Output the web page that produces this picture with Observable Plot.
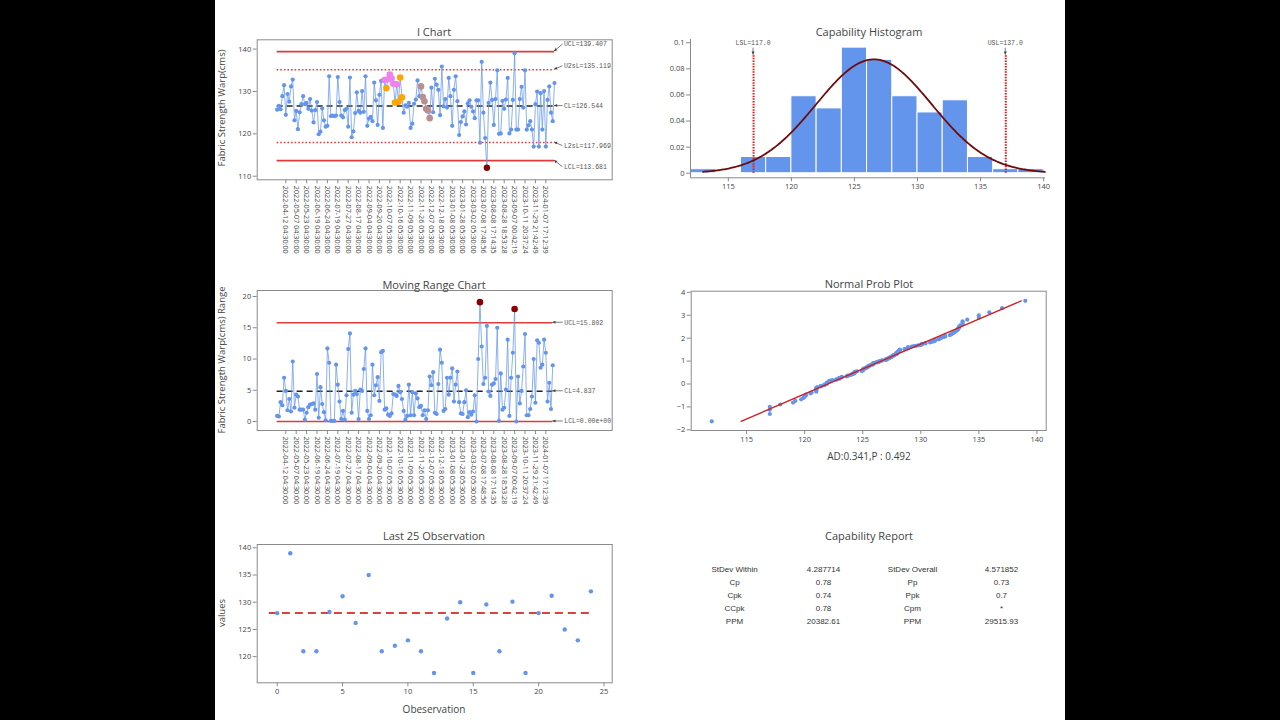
<!DOCTYPE html>
<html><head><meta charset="utf-8">
<script src="https://cdn.jsdelivr.net/npm/d3@7"></script>
<script src="https://cdn.jsdelivr.net/npm/@observablehq/plot@0.6"></script>
<style>
html,body{margin:0;padding:0;background:#000;width:1280px;height:720px;overflow:hidden;}
#panel{position:absolute;left:215px;top:0;width:850px;height:720px;background:#fff;}
.chart{position:absolute;}
.t{position:absolute;transform:translate(-50%,-50%);white-space:nowrap;font-family:"Open Sans",sans-serif;color:#444;}
.title{font-size:11px;}
.sub{font-size:10px;}
.yt{font-size:9.5px;transform:translate(-50%,-50%) rotate(-90deg);}
#report{position:absolute;left:690px;top:563px;width:356px;border-collapse:collapse;font-family:"Liberation Sans",Arial,sans-serif;font-size:8px;color:#333;}
#report td{width:25%;text-align:center;height:13px;padding:0;line-height:13px;}
</style></head>
<body>
<div id="panel"></div>
<div id="root"></div>
<script>
// ---------------- DATA ----------------
const iValues = [125.7,126.6,125.8,128.9,131.5,124.5,129.4,127.6,131.2,132.8,
123.2,125.4,121.1,125.1,127.0,128.9,127.0,127.3,125.9,128.2,
125.5,122.7,125.6,127.5,119.9,120.5,126.0,123.2,121.7,121.9,
133.6,124.2,124.3,124.2,124.3,133.4,127.5,124.3,123.9,125.6,
125.9,121.7,133.3,119.2,120.6,124.9,129.8,125.4,125.0,130.1,
125.2,133.6,121.9,123.6,124.0,123.0,132.1,127.9,122.1,129.2,
132.5,121.4,132.7,130.8,132.9,134.0,133.1,131.8,127.4,131.7,
127.6,133.3,128.6,125.0,126.7,126.4,127.3,121.4,122.4,127.1,
128.1,132.6,128.9,131.2,128.7,127.7,125.9,125.5,123.7,130.9,
125.1,133.0,131.6,130.4,124.4,135.9,126.5,128.2,126.2,133.2,
128.9,121.9,130.4,133.6,127.7,119.7,122.8,124.1,125.3,122.2,
127.2,127.9,126.4,125.3,123.7,127.9,127.9,117.9,137.0,125.0,
119.0,112.0,127.3,132.1,128.0,122.1,128.2,135.0,120.0,120.1,
127.8,125.9,128.1,133.2,120.1,121.0,128.0,139.0,121.0,121.0,
128.2,131.1,126.2,135.0,121.0,122.0,123.0,121.0,117.0,127.0,
130.0,117.0,129.6,121.0,130.1,117.0,128.0,131.2,125.0,123.0,
132.0];

const tickLabels = ["2022-04-12 04:30:00","2022-05-07 04:30:00","2022-05-23 04:30:00","2022-06-19 04:30:00",
"2022-06-24 04:30:00","2022-07-19 04:30:00","2022-07-27 04:30:00","2022-08-17 04:30:00","2022-09-04 04:30:00",
"2022-09-20 04:30:00","2022-10-07 05:30:00","2022-10-16 05:30:00","2022-11-09 05:30:00","2022-11-26 05:30:00",
"2022-12-07 05:30:00","2022-12-18 05:30:00","2023-01-08 05:30:00","2023-01-28 05:30:00","2023-03-02 05:30:00",
"2023-07-08 17:48:56","2023-08-08 17:14:35","2023-08-28 18:53:28","2023-09-07 00:42:19","2023-10-11 20:37:24",
"2023-11-29 21:42:49","2024-01-07 17:12:39"];
const tickStart = 5, tickStep = 6;

const iLimitLabels = ["UCL=139.407","U2sL=135.119","CL=126.544","L2sL=117.969","LCL=113.681"];
const iLimitValues = [139.407, 135.119, 126.544, 117.969, 113.681];
const mrLimitLabels = ["UCL=15.802","CL=4.837","LCL=0.00e+00"];
const mrLimitValues = [15.802, 4.837, 0];

// flagged points in the I chart (indices)
const beyondLimitIdx = [121];
const fourOfFiveIdx = [62,64,65,66,67,69];
const runIdx = [63,68,70,71,72];
const trendIdx = [83,84,85,86,87,88];

const specLabels = ["LSL=117.0","USL=137.0"];
const specValues = [117, 137];
const specLineTop = 0.0905;
const overallMean = 126.544;
const sdOverall = 4.571852;
const binWidth = 2;
const binRange = [112, 140];

const probShift = 1;
const adText = "AD:0.341,P : 0.492";

const last25Target = 128;
const last25Span = [-0.6, 24.1];

const reportRows = [
  ["StDev Within","4.287714","StDev Overall","4.571852"],
  ["Cp","0.78","Pp","0.73"],
  ["Cpk","0.74","Ppk","0.7"],
  ["CCpk","0.78","Cpm","*"],
  ["PPM","20382.61","PPM","29515.93"]
];

// ---------------- HELPERS ----------------
const BLUE = "#6495ED", RED = "#e03a3a", FRAME = "#8a8a8a";
const baseStyle = {fontFamily:'"Open Sans", sans-serif', fontSize:"7.5px", color:"#444", background:"transparent", overflow:"visible"};
const root = document.getElementById("root");
function place(node, left, top){ const d=document.createElement("div"); d.className="chart"; d.style.left=left+"px"; d.style.top=top+"px"; d.appendChild(node); root.appendChild(d); }
function label(text, x, y, cls){ const d=document.createElement("div"); d.className="t "+cls; d.style.left=x+"px"; d.style.top=y+"px"; d.textContent=text; root.appendChild(d); }
const ax = {tickSize:4, tickPadding:2, stroke:FRAME, label:null};

function annot(items){
  return (...args) => {
    const s = (args[0] && typeof args[0].x === "function") ? args[0] : args[1];
    const g = d3.create("svg:g");
    for (const a of items){
      const px = s.x(a.x), py = s.y(a.y);
      const tx = px + a.dx, ty = py + a.dy;
      const x0 = a.vertical ? tx : tx - 1.5;
      const y0 = a.vertical ? ty + 2.5 : ty;
      g.append("line").attr("x1",x0).attr("y1",y0).attr("x2",px).attr("y2",py).attr("stroke","#444").attr("stroke-width",0.7);
      const ang = Math.atan2(py-y0, px-x0), L=3.2, W=1.5;
      const bx = px - L*Math.cos(ang), by = py - L*Math.sin(ang);
      g.append("path").attr("d",`M${px},${py}L${bx-W*Math.sin(ang)},${by+W*Math.cos(ang)}L${bx+W*Math.sin(ang)},${by-W*Math.cos(ang)}Z`).attr("fill","#444");
      g.append("text").attr("x",tx).attr("y",ty)
        .attr("text-anchor", a.vertical ? "middle" : "start")
        .attr("dy", a.vertical ? "0" : "0.35em")
        .attr("font-family","'Liberation Mono', 'DejaVu Sans Mono', monospace")
        .attr("font-size","6.5px").attr("fill","#555").text(a.text);
    }
    return g.node();
  };
}

function invNorm(p){
  const a=[-3.969683028665376e+01,2.209460984245205e+02,-2.759285104469687e+02,1.383577518672690e+02,-3.066479806614716e+01,2.506628277459239e+00];
  const b=[-5.447609879822406e+01,1.615858368580409e+02,-1.556989798598866e+02,6.680131188771972e+01,-1.328068155288572e+01];
  const c=[-7.784894002430293e-03,-3.223964580411365e-01,-2.400758277161838e+00,-2.549732539343734e+00,4.374664141464968e+00,2.938163982698783e+00];
  const d=[7.784695709041462e-03,3.224671290700398e-01,2.445134137142996e+00,3.754408661907416e+00];
  const pl=0.02425, ph=1-pl; let q,r;
  if(p<pl){q=Math.sqrt(-2*Math.log(p));return (((((c[0]*q+c[1])*q+c[2])*q+c[3])*q+c[4])*q+c[5])/((((d[0]*q+d[1])*q+d[2])*q+d[3])*q+1);}
  if(p<=ph){q=p-0.5;r=q*q;return (((((a[0]*r+a[1])*r+a[2])*r+a[3])*r+a[4])*r+a[5])*q/(((((b[0]*r+b[1])*r+b[2])*r+b[3])*r+b[4])*r+1);}
  q=Math.sqrt(-2*Math.log(1-p));return -(((((c[0]*q+c[1])*q+c[2])*q+c[3])*q+c[4])*q+c[5])/((((d[0]*q+d[1])*q+d[2])*q+d[3])*q+1);
}

// ---------------- DERIVED ----------------
const N = iValues.length;
const iData = iValues.map((v,i)=>({i,v}));
const mrData = d3.range(N-1).map(j=>({j, v:Math.abs(iValues[j+1]-iValues[j])}));
const tickPos = tickLabels.map((_,k)=>tickStart+k*tickStep);
const xTickFmt = d => tickLabels[Math.round((d-tickStart)/tickStep)];
const seqDomain = [-11.5, 193.3];

const limitStyle = [
  {stroke:RED, strokeWidth:1.6},
  {stroke:RED, strokeWidth:1.4, strokeDasharray:"1.6,2"},
  {stroke:"#222", strokeWidth:1.5, strokeDasharray:"6,4"},
  {stroke:RED, strokeWidth:1.4, strokeDasharray:"1.6,2"},
  {stroke:RED, strokeWidth:1.6}
];
const mrLimitStyle = [limitStyle[0], limitStyle[2], limitStyle[4]];

// ---------------- I CHART ----------------
const iDy = [-7, -3.5, 0, 3.7, 6.6];
const iPlot = Plot.plot({
  width:430, height:260, marginLeft:41.7, marginRight:33.3, marginTop:19.3, marginBottom:100.7,
  style: baseStyle,
  x:{domain:seqDomain, axis:null, label:null}, y:{domain:[109.15,142.2], axis:null, label:null},
  marks:[
    ...iLimitValues.map((v,k)=>Plot.ruleY([v],{x1:0, x2:N-1, ...limitStyle[k]})),
    Plot.line(iData,{x:"i", y:"v", stroke:BLUE, strokeOpacity:0.75, strokeWidth:1}),
    Plot.dot(iData,{x:"i", y:"v", r:2.1, fill:BLUE}),
    Plot.dot(iData.filter(d=>runIdx.includes(d.i)),{x:"i", y:"v", r:3.3, fill:"orange"}),
    Plot.dot(iData.filter(d=>fourOfFiveIdx.includes(d.i)),{x:"i", y:"v", r:3.3, fill:"violet"}),
    Plot.dot(iData.filter(d=>trendIdx.includes(d.i)),{x:"i", y:"v", r:3.3, fill:"rosybrown"}),
    Plot.dot(iData.filter(d=>beyondLimitIdx.includes(d.i)),{x:"i", y:"v", r:3.2, fill:"darkred"}),
    Plot.frame({stroke:FRAME}),
    Plot.axisY([110,120,130,140],ax),
    Plot.axisX(tickPos,{...ax, tickFormat:xTickFmt, tickRotate:90, fontSize:7.2}),
    annot(iLimitValues.map((v,k)=>({x:N-1, y:v, dx:10, dy:iDy[k], text:iLimitLabels[k]})))
  ]
});
place(iPlot, 215, 20);

// ---------------- MOVING RANGE ----------------
const mrUcl = mrLimitValues[0];
const mrPlot = Plot.plot({
  width:430, height:250, marginLeft:41.7, marginRight:33.3, marginTop:18, marginBottom:92,
  style: baseStyle,
  x:{domain:seqDomain, axis:null, label:null}, y:{domain:[-1.44,20.96], axis:null, label:null},
  marks:[
    ...mrLimitValues.map((v,k)=>Plot.ruleY([v],{x1:0, x2:N-2, ...mrLimitStyle[k]})),
    Plot.line(mrData,{x:"j", y:"v", stroke:BLUE, strokeOpacity:0.75, strokeWidth:1}),
    Plot.dot(mrData,{x:"j", y:"v", r:2.1, fill:BLUE}),
    Plot.dot(mrData.filter(d=>d.v>mrUcl),{x:"j", y:"v", r:3.3, fill:"darkred"}),
    Plot.frame({stroke:FRAME}),
    Plot.axisY([0,5,10,15,20],ax),
    Plot.axisX(tickPos,{...ax, tickFormat:xTickFmt, tickRotate:90, fontSize:7.2}),
    annot(mrLimitValues.map((v,k)=>({x:N-2, y:v, dx:12, dy:0, text:mrLimitLabels[k]})))
  ]
});
place(mrPlot, 215, 272);

// ---------------- HISTOGRAM ----------------
const bins = d3.bin().domain(binRange).thresholds(d3.range(binRange[0]+binWidth, binRange[1], binWidth))(iValues)
  .filter(b=>b.length>0).map(b=>({x0:b.x0, x1:b.x1, dens:b.length/(N*binWidth)}));
const pdf = x => Math.exp(-0.5*((x-overallMean)/sdOverall)**2)/(sdOverall*Math.sqrt(2*Math.PI));
const curve = d3.range(113, 140.16, 0.1).map(x=>({x, y:pdf(x)}));
const histDomainX = [112, 140.15], histDomainY = [-0.0035, 0.1025];
const histPlot = Plot.plot({
  width:400, height:180, marginLeft:30, marginRight:15, marginTop:19, marginBottom:22.7,
  style: baseStyle,
  x:{domain:histDomainX, axis:null, label:null}, y:{domain:histDomainY, axis:null, label:null},
  marks:[
    Plot.rectY(bins,{x1:"x0", x2:"x1", y1:0, y2:"dens", fill:BLUE, stroke:"white", strokeWidth:1}),
    Plot.ruleX(specValues,{y1:0, y2:specLineTop, stroke:"#d41c1c", strokeWidth:2, strokeDasharray:"1.5,1.2"}),
    Plot.line(curve,{x:"x", y:"y", stroke:"#6e0b0b", strokeWidth:1.8}),
    Plot.ruleX([histDomainX[0]],{stroke:FRAME}),
    Plot.ruleY([histDomainY[0]],{stroke:FRAME}),
    Plot.axisY([0,0.02,0.04,0.06,0.08,0.1],{...ax, tickFormat:d=>String(+d.toFixed(2))}),
    Plot.axisX([115,120,125,130,135,140],ax),
    annot(specValues.map((v,k)=>({x:v, y:specLineTop, dx:0, dy:-9.5, vertical:true, text:specLabels[k]})))
  ]
});
place(histPlot, 660, 20);

// ---------------- NORMAL PROB PLOT ----------------
const sorted = iValues.slice().sort(d3.ascending);
const mn = Math.pow(0.5, 1/N);
const osm = sorted.map((_,k)=> invNorm(k===0 ? 1-mn : k===N-1 ? mn : (k+1-0.3175)/(N+0.365)));
const mo = d3.mean(osm), mx = d3.mean(sorted);
const slope = d3.sum(osm.map((o,k)=>(o-mo)*(sorted[k]-mx)))/d3.sum(osm.map(o=>(o-mo)**2));
const intercept = mx - slope*mo;
const probPts = sorted.map((v,k)=>({x:v, y:osm[k]+probShift}));
const fitLine = [osm[0], osm[N-1]].map(o=>({x:slope*o+intercept, y:o+probShift}));
const probPlot = Plot.plot({
  width:400, height:180, marginLeft:30.7, marginRight:14.3, marginTop:18.7, marginBottom:22,
  style: baseStyle,
  x:{domain:[110.23,140.8], axis:null, label:null}, y:{domain:[-2.03,4.05], axis:null, label:null},
  marks:[
    Plot.dot(probPts,{x:"x", y:"y", r:2.1, fill:BLUE}),
    Plot.line(fitLine,{x:"x", y:"y", stroke:"#d41c1c", strokeWidth:1.3}),
    Plot.frame({stroke:FRAME}),
    Plot.axisY([-2,-1,0,1,2,3,4],{...ax, tickFormat:d=>d<0?"\u2212"+(-d):String(d)}),
    Plot.axisX([115,120,125,130,135,140],ax)
  ]
});
place(probPlot, 660, 272);

// ---------------- LAST 25 ----------------
const last25 = iValues.slice(-25).map((v,k)=>({k,v}));
const lastPlot = Plot.plot({
  width:430, height:195, marginLeft:41.7, marginRight:33.3, marginTop:19, marginBottom:37.7,
  style: baseStyle,
  x:{domain:[-1.53,25.63], axis:null, label:null}, y:{domain:[115.2,140.6], axis:null, label:null},
  marks:[
    Plot.ruleY([last25Target],{x1:last25Span[0], x2:last25Span[1], stroke:"#d9433f", strokeWidth:2, strokeDasharray:"8,5"}),
    Plot.dot(last25,{x:"k", y:"v", r:2.2, fill:BLUE}),
    Plot.frame({stroke:FRAME}),
    Plot.axisY([120,125,130,135,140],ax),
    Plot.axisX([0,5,10,15,20,25],ax)
  ]
});
place(lastPlot, 215, 525);

// ---------------- TEXT ----------------
label("I Chart", 434, 31, "title");
label("Moving Range Chart", 434, 284, "title");
label("Last 25 Observation", 434, 535, "title");
label("Capability Histogram", 869, 31, "title");
label("Normal Prob Plot", 869, 283, "title");
label("Capability Report", 869, 535, "title");
label("Fabric Strength Warp(cms)", 221, 108, "yt");
label("Fabric Strength Warp(cms) Range", 221, 360, "yt");
label("values", 221, 613, "yt");
label("Obeservation", 434, 709, "sub");
label(adText, 869, 456, "sub");

const table = document.createElement("table"); table.id="report";
for (const row of reportRows){ const tr=document.createElement("tr"); for(const c of row){ const td=document.createElement("td"); td.textContent=c; tr.appendChild(td);} table.appendChild(tr); }
root.appendChild(table);
</script>
</body></html>
